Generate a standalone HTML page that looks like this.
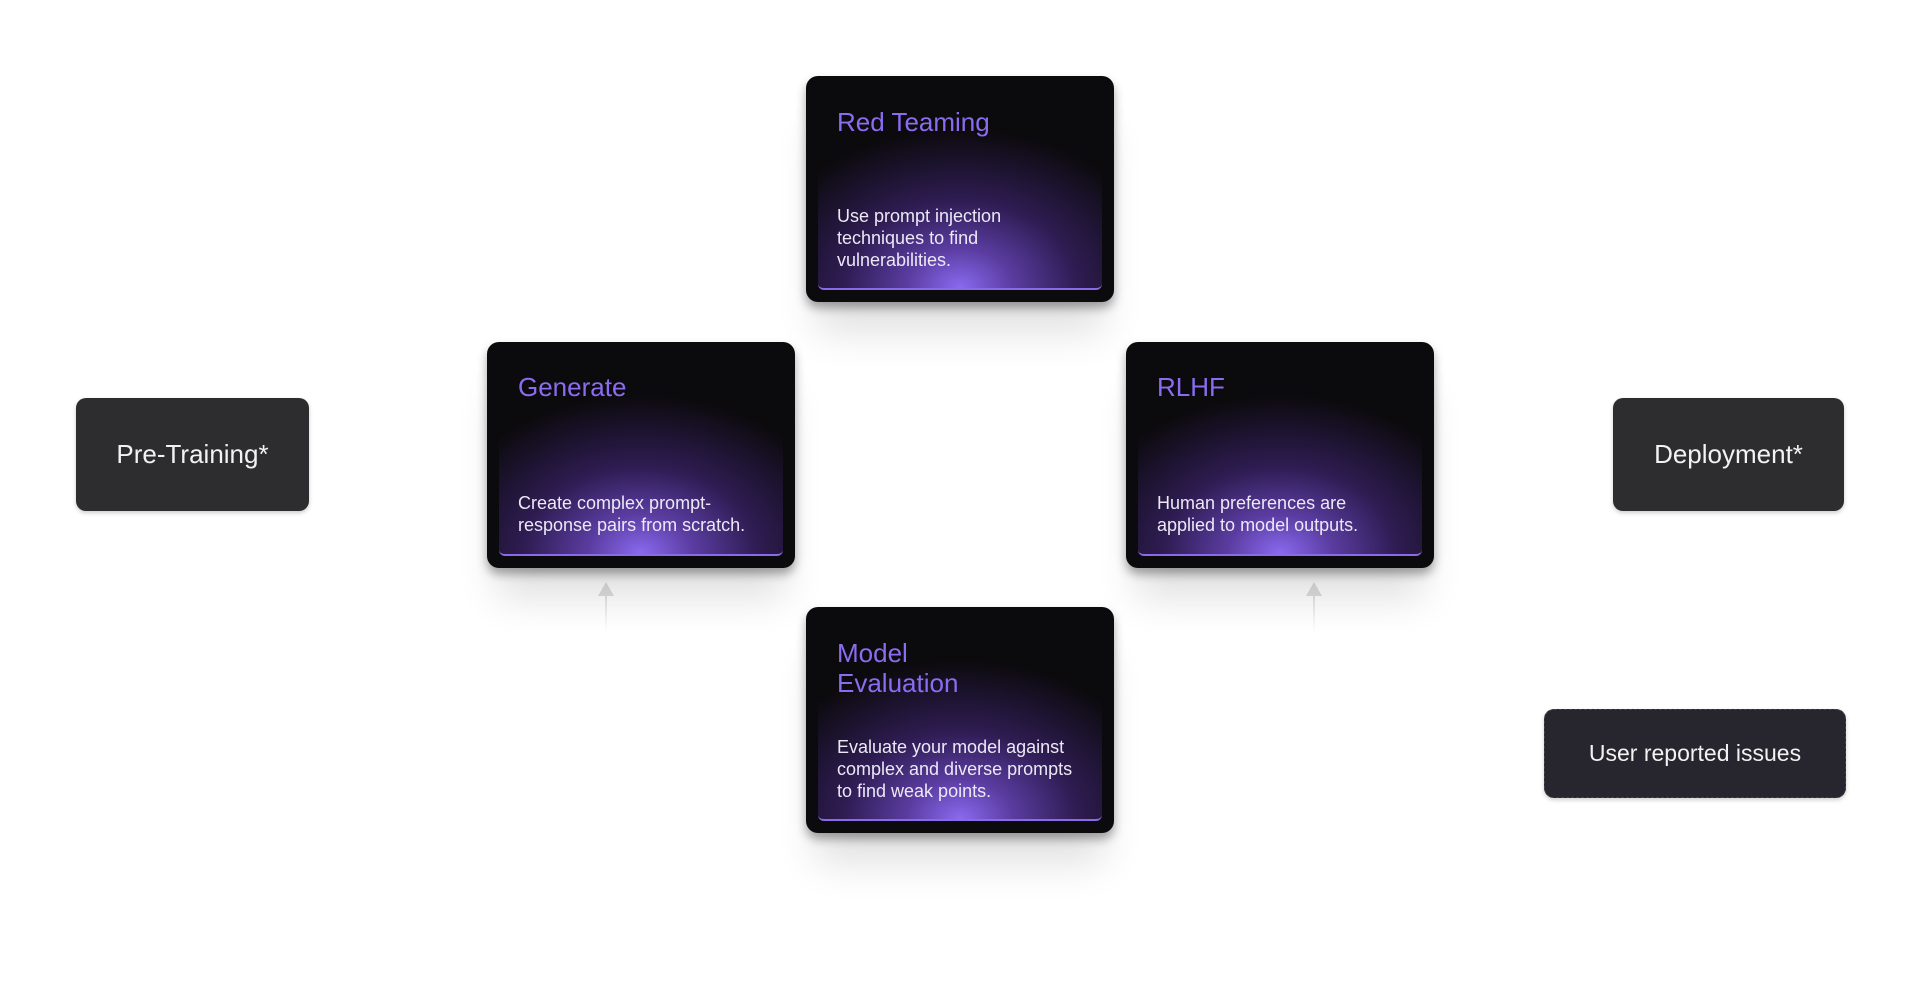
<!DOCTYPE html>
<html><head><meta charset="utf-8"><style>
body{margin:0;width:1920px;height:1006px;background:#fff;position:relative;overflow:hidden;font-family:"Liberation Sans",sans-serif}
.card{position:absolute;width:308px;height:226px;background:#0b0a0c;border-radius:12px;box-shadow:0 6px 10px rgba(0,0,0,.35),0 40px 40px -10px rgba(0,0,0,.12)}
.in{position:absolute;left:12px;right:12px;top:12px;bottom:12px;border-radius:6px;background:radial-gradient(ellipse 75% 80% at 50% 100%,#8a6af0 0%,#5a3ca0 25%,#2e1c52 55%,#0b0a0c 100%);border-bottom:2px solid #8a6ae8}
.t{position:absolute;left:31px;color:#8b6cf0;font-size:26px;line-height:30px}
.b{position:absolute;left:31px;color:#ece8f5;font-size:18px;line-height:22px}
.box{position:absolute;background:#2d2d2f;border-radius:10px;color:#f2f2f2;font-size:26px;display:flex;align-items:center;justify-content:center;box-shadow:0 2px 4px rgba(0,0,0,.2)}
.arr{position:absolute;width:2px;height:40px;background:linear-gradient(#ddd,#fff)}
.arr:before{content:"";position:absolute;left:-7px;top:-10px;border-left:8px solid transparent;border-right:8px solid transparent;border-bottom:14px solid #ddd}
</style></head><body>
<div class="box" style="left:76px;top:398px;width:233px;height:113px">Pre-Training*</div>
<div class="box" style="left:1613px;top:398px;width:231px;height:113px">Deployment*</div>
<div class="box" style="left:1544px;top:709px;width:300px;height:87px;background:#27252d;font-size:23px;border:1px dashed #444">User reported issues</div>
<div class="arr" style="left:605px;top:592px"></div>
<div class="arr" style="left:1313px;top:592px"></div>

<div class="card" style="left:806px;top:76px"><div class="in"></div>
<div class="t" style="top:31px">Red Teaming</div>
<div class="b" style="top:129px">Use prompt injection<br>techniques to find<br>vulnerabilities.</div></div>

<div class="card" style="left:487px;top:342px"><div class="in"></div>
<div class="t" style="top:30px">Generate</div>
<div class="b" style="top:150px">Create complex prompt-<br>response pairs from scratch.</div></div>

<div class="card" style="left:1126px;top:342px"><div class="in"></div>
<div class="t" style="top:30px">RLHF</div>
<div class="b" style="top:150px">Human preferences are<br>applied to model outputs.</div></div>

<div class="card" style="left:806px;top:607px"><div class="in"></div>
<div class="t" style="top:31px">Model<br>Evaluation</div>
<div class="b" style="top:129px">Evaluate your model against<br>complex and diverse prompts<br>to find weak points.</div></div>
</body></html>
